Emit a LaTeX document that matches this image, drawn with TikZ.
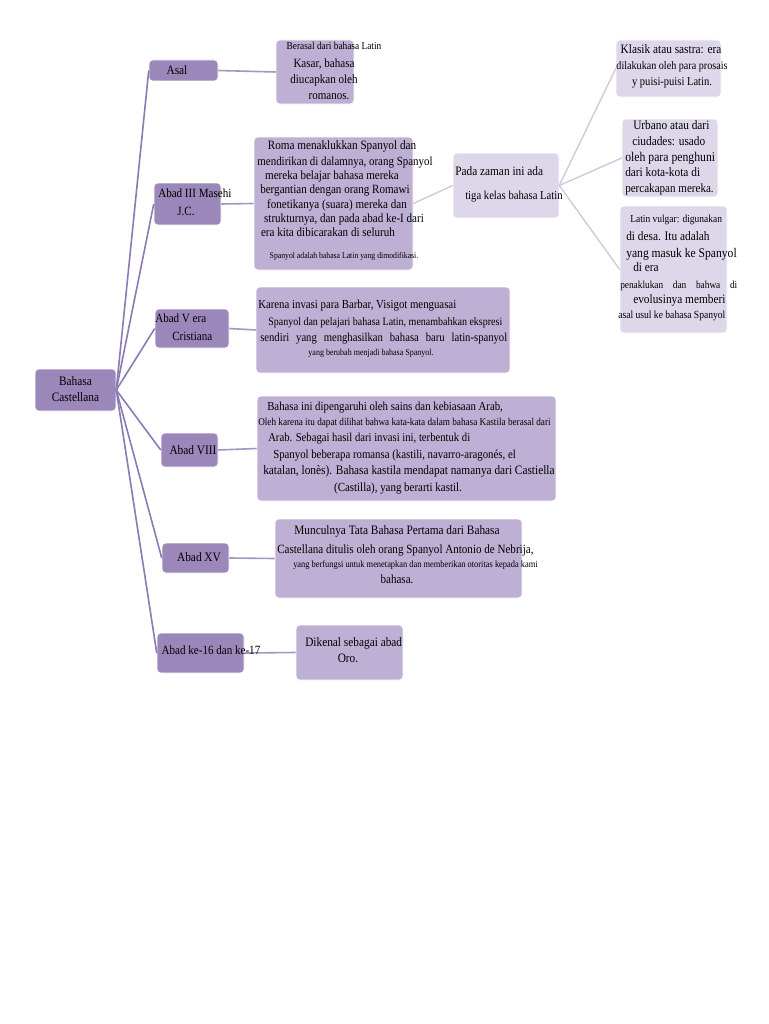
\documentclass[tikz,border=0pt]{standalone}
\usepackage{fontspec}
\setmainfont{Liberation Serif}[FakeStretch=0.88]
\definecolor{rootc}{HTML}{9B87B9}
\definecolor{midc}{HTML}{BDB0D4}
\definecolor{lightc}{HTML}{DED7EA}
\definecolor{fanc}{HTML}{8D7AB5}
\definecolor{linkc}{HTML}{A595C4}
\definecolor{palec}{HTML}{CFC7E0}
\newcommand\fs[2]{\fontsize{\fpeval{#1*1.136}}{#2}\selectfont}
\begin{document}
\begin{tikzpicture}[x=0.75pt,y=-0.75pt,
 box/.style={rounded corners=3pt, inner sep=0pt, draw=white, line width=0.4pt},
 dark/.style={box, fill=rootc},
 mid/.style={box, fill=midc},
 pale/.style={box, fill=lightc},
 ln/.style={inner sep=0pt, anchor=mid, text=black},
 lnw/.style={inner sep=0pt, anchor=mid west, text=black},
 fan/.style={draw=fanc, line width=1.2pt},
 link/.style={draw=linkc, line width=1.2pt},
 thinlink/.style={draw=palec, line width=1pt}]
\fill[white] (0,0) rectangle (768,1024);
\useasboundingbox (0,0) rectangle (768,1024);

% ---------- boxes ----------
\node[dark, minimum width=60.75pt, minimum height=31.5pt] (root) at (75.5,390) {};
\node[dark, minimum width=51.75pt, minimum height=15.75pt] (asal) at (183.5,70.5) {};
\node[dark, minimum width=50.25pt, minimum height=31.5pt] (abad3) at (187.5,204) {};
\node[dark, minimum width=55.5pt, minimum height=29.25pt] (abad5) at (192,328.5) {};
\node[dark, minimum width=42.75pt, minimum height=25.5pt] (abad8) at (189.5,450) {};
\node[dark, minimum width=50.25pt, minimum height=22.5pt] (abad15) at (195.5,558) {};
\node[dark, minimum width=65.25pt, minimum height=30pt] (abad16) at (200.5,653) {};

\node[mid, minimum width=58.5pt, minimum height=48pt] (asalD) at (315,72) {};
\node[mid, minimum width=119.25pt, minimum height=99.75pt] (roma) at (333.5,203.5) {};
\node[pale, minimum width=79.5pt, minimum height=48.75pt] (pada) at (506,185.5) {};
\node[mid, minimum width=190.5pt, minimum height=64.5pt] (karena) at (383,330) {};
\node[mid, minimum width=224.25pt, minimum height=78.75pt] (bahasa) at (406.5,448.5) {};
\node[mid, minimum width=185.25pt, minimum height=59.25pt] (muncul) at (398.5,558.5) {};
\node[mid, minimum width=80.25pt, minimum height=41.25pt] (dikenal) at (349.5,652.5) {};
\node[pale, minimum width=78.75pt, minimum height=42.75pt] (klasik) at (668.5,68.5) {};
\node[pale, minimum width=72pt, minimum height=58.5pt] (urbano) at (670,158) {};
\node[pale, minimum width=80.25pt, minimum height=95.25pt] (vulgar) at (673.5,269.5) {};

% ---------- connectors ----------
\foreach \t in {asal,abad3,abad5,abad8,abad15,abad16}
  \draw[fan] (root.east) -- (\t.west);
\draw[link] (asal.east) -- (asalD.west);
\draw[link] (abad3.east) -- (roma.west);
\draw[link] (abad5.east) -- (karena.west);
\draw[link] (abad8.east) -- (bahasa.west);
\draw[link] (abad15.east) -- (muncul.west);
\draw[link] (abad16.east) -- (dikenal.west);
\draw[thinlink] (roma.east) -- (pada.west);
\draw[thinlink] (pada.east) -- (klasik.west);
\draw[thinlink] (pada.east) -- (urbano.west);
\draw[thinlink] (pada.east) -- (vulgar.west);

% ---------- texts ----------
\node[ln, font=\fs{8.5}{10}] (rootA) at (75.5,382) {Bahasa};
\node[ln, font=\fs{8.5}{10}] (rootB) at (75.5,398) {Castellana};
\node[ln, font=\fs{8.5}{10}] (asalT) at (177,71) {Asal};
\node[lnw, font=\fs{8.3}{10}] (abad3A) at (158,194) {Abad III Masehi};
\node[ln, font=\fs{8.3}{10}] (abad3B) at (186,212) {J.C.};
\node[lnw, font=\fs{8.3}{10}] (abad5A) at (155,319) {Abad V era};
\node[lnw, font=\fs{8.3}{10}] (abad5B) at (172,337) {Cristiana};
\node[ln, font=\fs{8.5}{10}] (abad8T) at (193,451) {Abad VIII};
\node[ln, font=\fs{8.5}{10}] (abad15T) at (199,558) {Abad XV};
\node[ln, font=\fs{8.3}{10}] (abad16T) at (211,651) {Abad ke-16 dan ke-17};

\node[ln, font=\fs{7}{8}] (aD1) at (334,46) {Berasal dari bahasa Latin};
\node[ln, font=\fs{8.3}{10}] (aD2) at (324,64) {Kasar, bahasa};
\node[ln, font=\fs{8.3}{10}] (aD3) at (324,80) {diucapkan oleh};
\node[ln, font=\fs{8.3}{10}] (aD4) at (329,96) {romanos.};

\node[ln, font=\fs{8.4}{9}] (r1) at (342,146) {Roma menaklukkan Spanyol dan};
\node[ln, font=\fs{8.2}{9}] (r2) at (345,162) {mendirikan di dalamnya, orang Spanyol};
\node[ln, font=\fs{8.3}{9}] (r3) at (332,176) {mereka belajar bahasa mereka};
\node[ln, font=\fs{8.3}{9}] (r4) at (335,190) {bergantian dengan orang Romawi};
\node[ln, font=\fs{8.3}{9}] (r5) at (337,205) {fonetikanya (suara) mereka dan};
\node[ln, font=\fs{8.3}{9}] (r6) at (344,219) {strukturnya, dan pada abad ke-I dari};
\node[ln, font=\fs{8.3}{9}] (r7) at (328,233) {era kita dibicarakan di seluruh};
\node[ln, font=\fs{5.8}{6}] (r8) at (344,255) {Spanyol adalah bahasa Latin yang dimodifikasi.};

\node[lnw, font=\fs{8.5}{9}] (p1) at (455,172) {Pada zaman ini ada};
\node[lnw, font=\fs{8}{9}] (p2) at (465,196) {tiga kelas bahasa Latin};

\node[ln, font=\fs{8.5}{9}] (k1) at (671,50) {Klasik atau sastra: era};
\node[ln, font=\fs{7.6}{8}] (k2) at (672,66) {dilakukan oleh para prosais};
\node[ln, font=\fs{7.9}{8}] (k3) at (672,82) {y puisi-puisi Latin.};

\node[lnw, font=\fs{8.5}{9}] (u1) at (633,126) {Urbano atau dari};
\node[lnw, font=\fs{8.5}{9}] (u2) at (632,142) {ciudades: usado};
\node[lnw, font=\fs{8.8}{9}] (u3) at (625,158) {oleh para penghuni};
\node[lnw, font=\fs{8.5}{9}] (u4) at (625,173) {dari kota-kota di};
\node[lnw, font=\fs{8.3}{9}] (u5) at (625,189) {percakapan mereka.};

\node[lnw, font=\fs{7.1}{8}] (v1) at (630,219) {Latin vulgar: digunakan};
\node[lnw, font=\fs{8.5}{9}] (v2) at (626,237) {di desa. Itu adalah};
\node[lnw, font=\fs{8.7}{9}] (v3) at (626,254) {yang masuk ke Spanyol};
\node[lnw, font=\fs{8.5}{9}] (v4) at (633,268) {di era};
\node[lnw, font=\fs{7}{7}] (v5) at (620,285) {\makebox[87.75pt][s]{penaklukan dan bahwa di}};
\node[lnw, font=\fs{8.5}{9}] (v6) at (633,300) {evolusinya memberi};
\node[lnw, font=\fs{7.2}{7}] (v7) at (618,315) {asal usul ke bahasa Spanyol};

\node[lnw, font=\fs{8.1}{9}] (ka1) at (258,305) {Karena invasi para Barbar, Visigot menguasai};
\node[lnw, font=\fs{7.5}{8}] (ka2) at (268,322) {Spanyol dan pelajari bahasa Latin, menambahkan ekspresi};
\node[lnw, font=\fs{8}{9}] (ka3) at (260,338) {\makebox[185.25pt][s]{sendiri yang menghasilkan bahasa baru latin-spanyol}};
\node[ln, font=\fs{6}{7}] (ka4) at (371,352) {yang berubah menjadi bahasa Spanyol.};

\node[lnw, font=\fs{8.1}{9}] (b1) at (267,407) {Bahasa ini dipengaruhi oleh sains dan kebiasaan Arab,};
\node[lnw, font=\fs{6.9}{7}] (b2) at (258,422) {Oleh karena itu dapat dilihat bahwa kata-kata dalam bahasa Kastila berasal dari};
\node[lnw, font=\fs{8}{9}] (b3) at (268,438) {Arab. Sebagai hasil dari invasi ini, terbentuk di};
\node[lnw, font=\fs{8.1}{9}] (b4) at (273,455) {Spanyol beberapa romansa (kastili, navarro-aragonés, el};
\node[lnw, font=\fs{8.5}{9}] (b5) at (263,471) {katalan, lonès). Bahasa kastila mendapat namanya dari Castiella};
\node[ln, font=\fs{8.2}{9}] (b6) at (398,488) {(Castilla), yang berarti kastil.};

\node[ln, font=\fs{8.5}{9}] (m1) at (397,531) {Munculnya Tata Bahasa Pertama dari Bahasa};
\node[lnw, font=\fs{8.3}{9}] (m2) at (277,550) {Castellana ditulis oleh orang Spanyol Antonio de Nebrija,};
\node[lnw, font=\fs{6.3}{7}] (m3) at (293,564) {yang berfungsi untuk menetapkan dan memberikan otoritas kepada kami};
\node[ln, font=\fs{8.3}{9}] (m4) at (397,580) {bahasa.};

\node[lnw, font=\fs{8.5}{9}] (d1) at (305,643) {Dikenal sebagai abad};
\node[ln, font=\fs{8.5}{9}] (d2) at (348,659) {Oro.};
\end{tikzpicture}
\end{document}
